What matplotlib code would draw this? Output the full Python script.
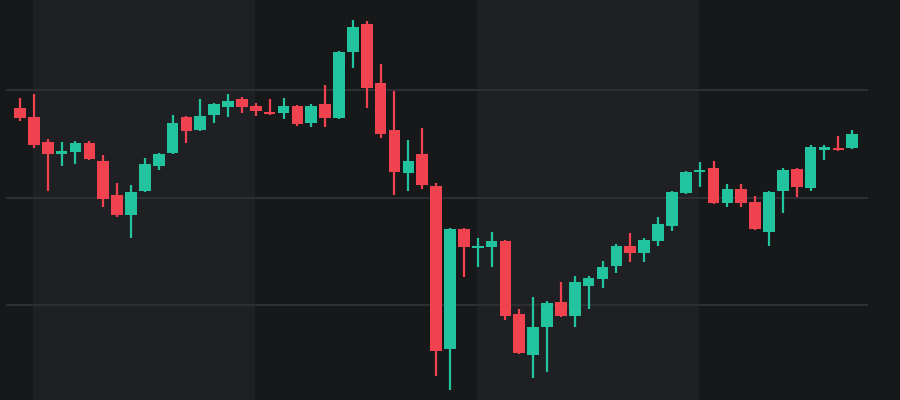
import numpy as np
import matplotlib
matplotlib.use("Agg")
import matplotlib.pyplot as plt

# OHLC per candle
opens = [128.33, 127.49, 125.16, 124.05, 124.23, 125.07, 123.40, 120.23, 118.37, 120.60,
         122.93, 124.14, 127.49, 126.28, 127.67, 128.42, 129.16, 128.51, 127.95, 127.86,
         128.51, 126.93, 128.70, 127.40, 133.53, 136.14, 130.65, 126.28, 122.28, 124.05,
         121.07, 105.91, 117.07, 115.30, 115.40, 115.95, 109.16, 105.35, 107.95, 110.28,
         108.98, 111.77, 112.42, 113.63, 115.49, 114.84, 115.95, 117.35, 120.42, 122.37,
         122.74, 119.49, 120.79, 119.58, 116.79, 120.60, 122.65, 120.88, 124.42, 124.60,
         124.60]
highs = [129.26, 129.63, 125.44, 125.16, 125.26, 125.26, 123.95, 121.35, 121.16, 123.67,
         124.14, 127.67, 127.55, 129.16, 128.79, 129.63, 129.35, 128.79, 129.16, 129.26,
         128.60, 128.70, 130.47, 133.60, 136.51, 136.42, 132.42, 129.91, 125.35, 126.47,
         121.35, 117.15, 117.15, 116.23, 116.79, 116.05, 109.63, 110.74, 110.37, 112.14,
         112.70, 112.70, 114.09, 115.67, 116.70, 116.23, 118.19, 120.60, 122.47, 123.30,
         123.40, 121.26, 121.26, 120.14, 120.60, 122.74, 122.74, 124.88, 124.88, 125.72,
         126.28]
lows = [127.12, 124.60, 120.60, 122.93, 123.12, 123.50, 119.12, 118.19, 116.23, 120.50,
        122.56, 124.05, 125.07, 126.19, 126.93, 127.49, 127.86, 127.58, 127.67, 127.30,
        126.65, 126.56, 126.56, 127.30, 132.05, 128.33, 125.53, 120.23, 120.60, 120.79,
        103.40, 102.09, 112.60, 113.53, 113.53, 108.60, 105.40, 103.21, 103.77, 108.90,
        107.95, 109.63, 111.58, 112.98, 114.00, 114.00, 115.49, 116.88, 120.30, 120.98,
        119.40, 119.12, 119.12, 117.00, 115.49, 118.56, 120.05, 120.60, 123.49, 124.33,
        124.50]
closes = [127.40, 124.88, 124.05, 124.33, 125.07, 123.58, 119.86, 118.37, 120.51, 123.12,
          124.05, 126.93, 126.19, 127.58, 128.70, 128.98, 128.42, 128.05, 127.77, 128.51,
          126.84, 128.51, 127.40, 133.53, 135.86, 130.19, 125.91, 122.37, 123.40, 121.16,
          105.72, 117.07, 115.40, 115.49, 115.95, 108.98, 105.53, 107.95, 110.19, 108.98,
          112.14, 112.51, 113.53, 115.49, 114.84, 116.05, 117.53, 120.51, 122.37, 122.47,
          119.49, 120.79, 119.49, 117.07, 120.51, 122.56, 120.98, 124.70, 124.70, 124.42,
          125.91]
grid_levels = [130, 120, 110]
band_starts = [0.95, 32.95]
band_len = 16

up_col = "#22c39f"
down_col = "#f0434f"
bg_dark = "#17181a"
bg_band = "#1f2023"

fig = plt.figure(figsize=(9, 4), dpi=100)
fig.patch.set_facecolor(bg_dark)
ax = fig.add_axes([0, 0, 1, 1])
ax.set_facecolor(bg_dark)

for s in band_starts:
    ax.axvspan(s, s + band_len, color=bg_band, zorder=0, lw=0)

ax.hlines(grid_levels, -1.0, 61.15, colors="#2e2f33", linewidth=1.5, zorder=1)

x = np.arange(len(opens))
o = np.array(opens); h = np.array(highs); l = np.array(lows); c = np.array(closes)
up = c >= o
cols = np.where(up, up_col, down_col)

ax.vlines(x, l, h, colors=cols, linewidth=1.6, zorder=2)
body_lo = np.minimum(o, c)
body_h = np.maximum(np.abs(c - o), 0.15)
ax.bar(x, body_h, bottom=body_lo, width=0.84, color=cols, linewidth=0, zorder=3)

ax.set_xlim(-20 / 13.87, 880 / 13.87)
ax.set_ylim(130 - 310 / 10.75, 130 + 90 / 10.75)
ax.axis("off")

fig.savefig("out.png", dpi=100, facecolor=fig.get_facecolor())
